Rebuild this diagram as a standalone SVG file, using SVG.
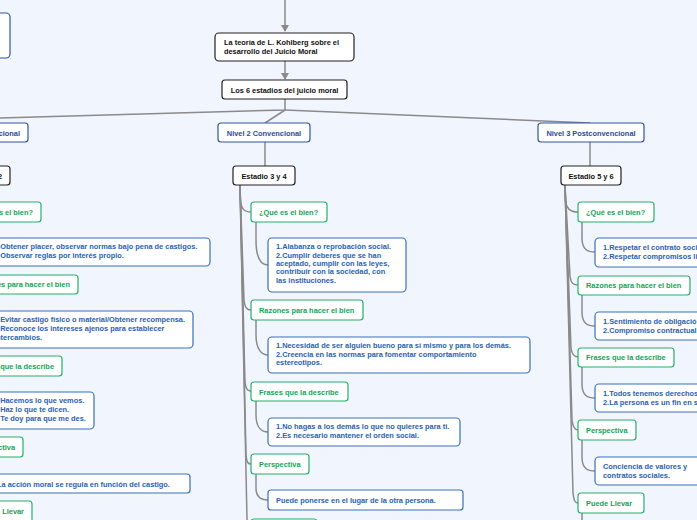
<svg xmlns="http://www.w3.org/2000/svg" width="697" height="520" viewBox="0 0 697 520">
<defs>
<style>
text{font-family:"Liberation Sans",Arial,sans-serif;font-weight:bold;font-size:7.4px}
.k rect{fill:#fff;stroke:#222;stroke-width:1.2}
.k text{fill:#111}
.n rect{fill:#fff;stroke:#2f56a0;stroke-width:1.2}
.n text{fill:#2c4c94}
.g rect{fill:#fff;stroke:#27b06a;stroke-width:1.2}
.g text{fill:#16a456}
.b rect{fill:#fff;stroke:#3a70bd;stroke-width:1.2}
.b text{fill:#2a62b0}
.e{text-anchor:end}
#conn path{fill:none;stroke:#8a8a8a;stroke-width:1.5}
</style>
<marker id="ar" markerWidth="8" markerHeight="8" refX="6" refY="4" orient="auto" markerUnits="userSpaceOnUse"><path d="M0,0 L7,4 L0,8 z" fill="#8a8a8a"/></marker>
</defs>
<rect width="697" height="520" fill="#f1f5fe"/>
<g id="conn">
<path d="M285,0 V31" marker-end="url(#ar)"/>
<path d="M285,61 V79" marker-end="url(#ar)"/>
<path d="M285,99 V110 L0,118"/>
<path d="M285,110 L265,123"/>
<path d="M285,110 L590,123"/>
<path d="M265,142 V166"/>
<path d="M590,142 V166"/>
<path d="M240,185 V195 C240,210 245,212 251,212"/>
<path d="M240,185 L244,300 C245,308 247,310 251,310"/>
<path d="M240,185 L245,382 C246,390 248,391 251,391"/>
<path d="M240,185 L246,455 C247,463 248,464 251,464"/>
<path d="M240,185 L247,520"/>
<path d="M256,222 V240 C256,260 262,265 268,265"/>
<path d="M256,320 V335 C256,350 262,355 268,355"/>
<path d="M256,401 V415 C256,428 262,432 268,432"/>
<path d="M256,474 V488 C256,498 262,500 268,500"/>
<path d="M565,185 V195 C565,210 571,212 578,212"/>
<path d="M565,185 L570,276 C571,284 574,285 578,285"/>
<path d="M565,185 L571,348 C572,356 575,357 578,357"/>
<path d="M565,185 L572,420 C573,428 575,430 578,430"/>
<path d="M565,185 L573,493 C574,501 575,503 578,503"/>
<path d="M582,222 V238 C582,250 588,252 595,252"/>
<path d="M582,295 V312 C582,324 588,326 595,326"/>
<path d="M582,367 V384 C582,396 588,398 595,398"/>
<path d="M582,440 V457 C582,469 588,471 595,471"/>
<path d="M582,513 V520"/>
</g>
<g id="top-left" class="n"><rect x="-20" y="13" width="30" height="45" rx="4"/></g>
<g id="titulo" class="k"><rect x="215" y="33" width="139" height="28" rx="4"/><text x="224" y="45">La teoría de L. Kohlberg sobre el</text><text x="224" y="54">desarrollo del Juicio Moral</text></g>
<g id="estadios" class="k"><rect x="222" y="80" width="125" height="19" rx="3"/><text x="284.5" y="92.5" text-anchor="middle">Los 6 estadios del juicio moral</text></g>
<g id="nivel1" class="n"><rect x="-70" y="123" width="98" height="19" rx="3"/><text class="e" x="20" y="135.5">Nivel 1 Preconvencional</text></g>
<g id="nivel2" class="n"><rect x="218" y="123" width="92" height="19" rx="3"/><text x="264" y="135.5" text-anchor="middle">Nivel 2 Convencional</text></g>
<g id="nivel3" class="n"><rect x="538" y="123" width="106" height="19" rx="3"/><text x="591" y="135.5" text-anchor="middle">Nivel 3 Postconvencional</text></g>
<g id="est12" class="k"><rect x="-55" y="166" width="65" height="19" rx="3"/><text class="e" x="2" y="178.5">Estadio 1 y 2</text></g>
<g id="est34" class="k"><rect x="233" y="166" width="62" height="19" rx="3"/><text x="264" y="178.5" text-anchor="middle">Estadio 3 y 4</text></g>
<g id="est56" class="k"><rect x="561" y="166" width="60" height="19" rx="3"/><text x="591" y="178.5" text-anchor="middle">Estadio 5 y 6</text></g>

<g id="l-q" class="g"><rect x="-40" y="202" width="81" height="20" rx="3"/><text class="e" x="33" y="214.5">¿Qué es el bien?</text></g>
<g id="l-q1" class="b"><rect x="-20" y="238" width="230" height="28" rx="4"/><text x="-6" y="249">1.Obtener placer, observar normas bajo pena de castigos.</text><text x="-6" y="258">2.Observar reglas por interés propio.</text></g>
<g id="l-r" class="g"><rect x="-40" y="275" width="118" height="19" rx="3"/><text class="e" x="70" y="287">Razones para hacer el bien</text></g>
<g id="l-r1" class="b"><rect x="-20" y="311" width="213" height="37" rx="4"/><text x="-6" y="322">1.Evitar castigo físico o material/Obtener recompensa.</text><text x="-6" y="331">2.Reconoce los intereses ajenos para establecer</text><text x="-6" y="340">intercambios.</text></g>
<g id="l-f" class="g"><rect x="-50" y="356" width="112" height="20" rx="3"/><text class="e" x="54" y="368.5">Frases que la describe</text></g>
<g id="l-f1" class="b"><rect x="-20" y="392" width="114" height="37" rx="4"/><text x="-6" y="403">1.Hacemos lo que vemos.</text><text x="-6" y="412">2.Haz lo que te dicen.</text><text x="-6" y="421">3.Te doy para que me des.</text></g>
<g id="l-p" class="g"><rect x="-40" y="437" width="63" height="20" rx="3"/><text class="e" x="15" y="449.5">Perspectiva</text></g>
<g id="l-p1" class="b"><rect x="-20" y="474" width="210" height="19" rx="3"/><text x="-3" y="486.5">La acción moral se regula en función del castigo.</text></g>
<g id="l-l" class="g"><rect x="-40" y="501" width="72" height="25" rx="3"/><text class="e" x="24" y="513.5">Puede Llevar</text></g>

<g id="m-q" class="g"><rect x="251" y="202" width="76" height="20" rx="3"/><text x="259" y="214.5">¿Qué es el bien?</text></g>
<g id="m-q1" class="b"><rect x="268" y="238" width="138" height="54" rx="4"/><text x="276" y="249">1.Alabanza o reprobación social.</text><text x="276" y="258">2.Cumplir deberes que se han</text><text x="276" y="266">aceptado, cumplir con las leyes,</text><text x="276" y="274">contribuir con la sociedad, con</text><text x="276" y="283">las instituciones.</text></g>
<g id="m-r" class="g"><rect x="251" y="300" width="112" height="20" rx="3"/><text x="259" y="312.5">Razones para hacer el bien</text></g>
<g id="m-r1" class="b"><rect x="268" y="337" width="262" height="36" rx="4"/><text x="276" y="348">1.Necesidad de ser alguien bueno para sí mismo y para los demás.</text><text x="276" y="357">2.Creencia en las normas para fomentar comportamiento</text><text x="276" y="365">estereotipos.</text></g>
<g id="m-f" class="g"><rect x="251" y="382" width="97" height="19" rx="3"/><text x="259" y="394.5">Frases que la describe</text></g>
<g id="m-f1" class="b"><rect x="268" y="418" width="192" height="28" rx="4"/><text x="276" y="429">1.No hagas a los demás lo que no quieres para ti.</text><text x="276" y="438">2.Es necesario mantener el orden social.</text></g>
<g id="m-p" class="g"><rect x="251" y="454" width="58" height="20" rx="3"/><text x="259" y="466.5">Perspectiva</text></g>
<g id="m-p1" class="b"><rect x="268" y="490" width="195" height="20" rx="3"/><text x="276" y="502.5">Puede ponerse en el lugar de la otra persona.</text></g>
<g id="m-l" class="g"><rect x="251" y="519" width="66" height="20" rx="3"/></g>

<g id="r-q" class="g"><rect x="578" y="202" width="76" height="20" rx="3"/><text x="586" y="214.5">¿Qué es el bien?</text></g>
<g id="r-q1" class="b"><rect x="595" y="238" width="140" height="29" rx="4"/><text x="603" y="249.5">1.Respetar el contrato social.</text><text x="603" y="258.5">2.Respetar compromisos libremente.</text></g>
<g id="r-r" class="g"><rect x="578" y="276" width="112" height="19" rx="3"/><text x="586" y="288">Razones para hacer el bien</text></g>
<g id="r-r1" class="b"><rect x="595" y="312" width="140" height="28" rx="4"/><text x="603" y="323.5">1.Sentimiento de obligación.</text><text x="603" y="332.5">2.Compromiso contractual.</text></g>
<g id="r-f" class="g"><rect x="578" y="348" width="96" height="19" rx="3"/><text x="586" y="360">Frases que la describe</text></g>
<g id="r-f1" class="b"><rect x="595" y="384" width="140" height="28" rx="4"/><text x="603" y="395.5">1.Todos tenemos derechos.</text><text x="603" y="404.5">2.La persona es un fin en sí misma.</text></g>
<g id="r-p" class="g"><rect x="578" y="420" width="58" height="20" rx="3"/><text x="586" y="432.5">Perspectiva</text></g>
<g id="r-p1" class="b"><rect x="595" y="457" width="140" height="28" rx="4"/><text x="603" y="468.5">Conciencia de valores y</text><text x="603" y="477.5">contratos sociales.</text></g>
<g id="r-l" class="g"><rect x="578" y="493" width="66" height="20" rx="3"/><text x="586" y="505.5">Puede Llevar</text></g>
</svg>
